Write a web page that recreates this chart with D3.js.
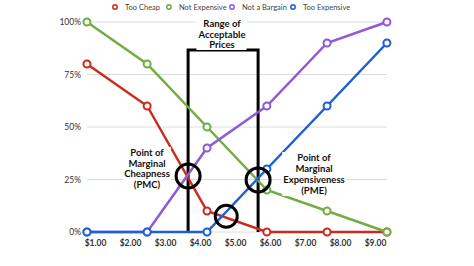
<!DOCTYPE html>
<html lang="en">
  <head>
    <meta charset="utf-8"/>
    <title>Van Westendorp price sensitivity</title>
    <script src="https://cdn.jsdelivr.net/npm/d3@7"></script>
    <style>
      body { margin: 0; background: #fff; }
      text { font-family: Lato, "Open Sans", sans-serif; }
    </style>
  </head>
  <body>
    <div id="chart"></div>
    <script>
      // survey price points (the points sit a little off the $ tick labels)
      var prices = [0.77, 2.49, 4.2, 5.91, 7.63, 9.34];
      var priceTicks = [1, 2, 3, 4, 5, 6, 7, 8, 9];
      var pctTicks = [0, 25, 50, 75, 100];

      var seriesNames = ["Too Cheap", "Not Expensive", "Not a Bargain", "Too Expensive"];
      var seriesColours = ["#cc2a1e", "#72ad44", "#8b5cd6", "#1c5fd8"];
      var tooCheap = [80, 60, 10, 0, 0, 0];
      var notExpensive = [100, 80, 50, 20, 10, 0];
      var notBargain = [0, 0, 40, 60, 90, 100];
      var tooExpensive = [0, 0, 0, 30, 60, 90];

      // annotation points: [price, pct]
      var pmc = [3.66, 26.7];
      var opp = [4.75, 7.5];
      var pme = [5.66, 24.8];

      var w = 474, h = 266;

      var x = d3.scaleLinear().domain([1, 9]).range([95, 375]);
      var y = d3.scaleLinear().domain([0, 100]).range([232, 22]);

      var svg = d3.select("#chart")
        .append("svg")
        .attr("width", w)
        .attr("height", h)
      ;

      // grid lines
      svg.append("g")
        .selectAll("line")
        .data(pctTicks)
        .enter()
        .append("line")
        .attr("x1", x(prices[0]))
        .attr("x2", x(prices[prices.length - 1]))
        .attr("y1", function(d) { return y(d); })
        .attr("y2", function(d) { return y(d); })
        .attr("stroke", "#dcdcdc")
        .attr("stroke-width", 1)
      ;

      // y axis labels
      var yAxis = d3.axisLeft(y)
        .tickValues(pctTicks)
        .tickFormat(function(d) { return d + "%"; })
        .tickSize(0)
        .tickPadding(0)
      ;
      var yg = svg.append("g")
        .attr("transform", "translate(81,0)")
        .call(yAxis)
      ;
      yg.select(".domain").remove();
      yg.selectAll("text")
        .attr("fill", "#333")
        .style("font-size", "8.5px")
      ;

      // x axis labels
      var xAxis = d3.axisBottom(x)
        .tickValues(priceTicks)
        .tickFormat(function(d) { return "$" + d.toFixed(2); })
        .tickSize(0)
        .tickPadding(0)
      ;
      var xg = svg.append("g")
        .attr("transform", "translate(0,240)")
        .call(xAxis)
      ;
      xg.select(".domain").remove();
      xg.selectAll("text")
        .attr("fill", "#333")
        .style("font-size", "8.5px")
        .style("font-weight", "bold")
      ;

      // range of acceptable prices box
      svg.append("path")
        .attr("d", "M" + x(pmc[0]) + "," + y(0) + "V50H" + x(pme[0]) + "V" + y(0))
        .attr("fill", "none")
        .attr("stroke", "#000")
        .attr("stroke-width", 3)
      ;

      // series lines
      var allSeries = [tooCheap, notExpensive, notBargain, tooExpensive];
      var line = d3.line()
        .x(function(d, i) { return x(prices[i]); })
        .y(function(d) { return y(d); })
      ;
      allSeries.forEach(function(vals, s) {
        var g = svg.append("g");
        g.append("path")
          .attr("d", line(vals))
          .attr("fill", "none")
          .attr("stroke", seriesColours[s])
          .attr("stroke-width", 2.5)
        ;
        g.selectAll("circle")
          .data(vals)
          .enter()
          .append("circle")
          .attr("cx", function(d, i) { return x(prices[i]); })
          .attr("cy", function(d) { return y(d); })
          .attr("r", 3.5)
          .attr("fill", "#fff")
          .attr("stroke", seriesColours[s])
          .attr("stroke-width", 2)
        ;
      });

      // black circles at the crossings
      svg.append("g")
        .selectAll("circle")
        .data([pmc, opp, pme])
        .enter()
        .append("circle")
        .attr("cx", function(d) { return x(d[0]); })
        .attr("cy", function(d) { return y(d[1]); })
        .attr("r", function(d, i) { return i == 1 ? 11 : 12; })
        .attr("fill", "none")
        .attr("stroke", "#000")
        .attr("stroke-width", 3)
      ;

      // bold multi-line labels with white backing
      function label(lines, cx, top, lh) {
        var g = svg.append("g");
        var t = g.append("text")
          .attr("text-anchor", "middle")
          .style("font-size", "9.5px")
          .style("font-weight", "bold")
          .attr("fill", "#111")
        ;
        lines.forEach(function(l, i) {
          t.append("tspan").attr("x", cx).attr("y", top + i * lh).text(l);
        });
        var b = t.node().getBBox();
        g.insert("rect", "text")
          .attr("x", b.x - 1)
          .attr("y", b.y)
          .attr("width", b.width + 2)
          .attr("height", b.height)
          .attr("fill", "#fff")
        ;
      }
      label(["Range of", "Acceptable", "Prices"], 222, 27, 10.5);
      label(["Point of", "Marginal", "Cheapness", "(PMC)"], 147, 156, 10.5);
      label(["Point of", "Marginal", "Expensiveness", "(PME)"], 314, 161, 11);

      // legend
      var legendX = [115, 169, 232, 293];
      var legend = svg.append("g")
        .selectAll("g")
        .data(seriesNames)
        .enter()
        .append("g")
        .attr("transform", function(d, i) { return "translate(" + legendX[i] + ",7)"; })
      ;
      legend.append("circle")
        .attr("r", 2.2)
        .attr("fill", "#fff")
        .attr("stroke", function(d, i) { return seriesColours[i]; })
        .attr("stroke-width", 1.5)
      ;
      legend.append("text")
        .attr("x", 10)
        .attr("y", 3)
        .style("font-size", "7.5px")
        .attr("fill", "#444")
        .text(function(d) { return d; })
      ;
    </script>
  </body>
</html>
